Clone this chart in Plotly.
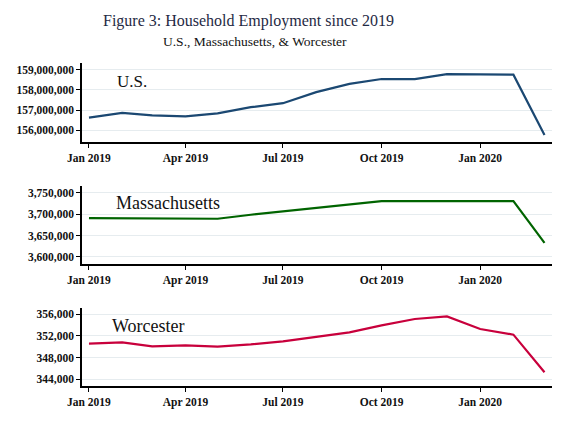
import plotly.graph_objects as go
from plotly.subplots import make_subplots

months = ["2019-01-01", "2019-02-01", "2019-03-01", "2019-04-01", "2019-05-01",
          "2019-06-01", "2019-07-01", "2019-08-01", "2019-09-01", "2019-10-01",
          "2019-11-01", "2019-12-01", "2020-01-01", "2020-02-01", "2020-03-01"]

us_employment = [156627000, 156866000, 156741000, 156696000, 156844000,
                 157148000, 157346000, 157895000, 158298000, 158544000,
                 158536000, 158780000, 158770000, 158759000, 155772000]

ma_employment = [3690700, 3690500, 3689000, 3689000, 3689200,
                 3698500, 3706500, 3714000, 3722000, 3730500,
                 3730500, 3730500, 3730500, 3730500, 3633000]

worcester_employment = [350580, 350800, 350090, 350270, 350030,
                        350450, 351000, 351820, 352670, 353950,
                        355130, 355610, 353290, 352240, 345290]

series_names = ["U.S.", "Massachusetts", "Worcester"]
series_colors = ["#1b4872", "#006400", "#c8003c"]

tick_dates = ["2019-01-01", "2019-04-01", "2019-07-01", "2019-10-01", "2020-01-01"]
tick_labels = ["Jan 2019", "Apr 2019", "Jul 2019", "Oct 2019", "Jan 2020"]

y_ticks = [
    [156000000, 157000000, 158000000, 159000000],
    [3600000, 3650000, 3700000, 3750000],
    [344000, 348000, 352000, 356000],
]
y_ranges = [
    [155410000, 159320000],
    [3583600, 3765600],
    [342765, 357106],
]

title_text = "Figure 3: Household Employment since 2019"
subtitle_text = "U.S., Massachusetts, & Worcester"

FONT = "Liberation Serif"
OFF = 8.0          # page body margin
W = 574.0 - OFF
H = 433.0 - OFF


def px_x(x):
    return (x - OFF) / W


def px_y(y):
    return 1 - (y - OFF) / H


fig = make_subplots(rows=3, cols=1)

all_series = [us_employment, ma_employment, worcester_employment]
for i, vals in enumerate(all_series):
    fig.add_trace(go.Scatter(x=months, y=vals, mode="lines",
                             line=dict(color=series_colors[i], width=2.2),
                             name=series_names[i], showlegend=False),
                  row=i + 1, col=1)

# panel pixel extents (top, bottom) in reference screen pixels
panels = [(63.3, 142.3), (186.0, 264.0), (308.3, 386.0)]

for i in range(3):
    top, bot = panels[i]
    ax = "" if i == 0 else str(i + 1)
    fig.layout["yaxis" + ax].update(
        domain=[px_y(bot), px_y(top)],
        range=y_ranges[i],
        tickvals=y_ticks[i],
        tickformat=",d",
        showgrid=True, gridcolor="#e6ecef", gridwidth=1,
        zeroline=False, automargin=False,
        showline=True, linecolor="black", linewidth=1.5,
        ticks="outside", ticklen=4, tickcolor="black",
        tickfont=dict(family=FONT, size=11.5, color="#111111", weight="bold"),
    )
    fig.layout["xaxis" + ax].update(
        type="date",
        domain=[px_x(82), px_x(552)],
        range=["2018-12-25 12:00", "2020-03-08"],
        tickvals=tick_dates,
        ticktext=tick_labels,
        showgrid=False, zeroline=False, automargin=False,
        showline=True, linecolor="black", linewidth=1.5,
        ticks="outside", ticklen=4, tickcolor="black",
        tickfont=dict(family=FONT, size=11.5, color="#111111", weight="bold"),
        anchor="y" + ax,
    )

label_pos = [(115, 81), (114, 203), (110, 326)]
label_sizes = [17, 18, 18]
for i in range(3):
    x, y = label_pos[i]
    fig.add_annotation(x=px_x(x), y=px_y(y), xref="paper", yref="paper",
                       text=series_names[i], showarrow=False,
                       xanchor="left", yanchor="middle",
                       font=dict(family=FONT, size=label_sizes[i], color="#111111"))

fig.add_annotation(x=px_x(249), y=px_y(21), xref="paper", yref="paper",
                   text=title_text, showarrow=False, xanchor="center", yanchor="middle",
                   font=dict(family=FONT, size=16, color="#1f2a44"))
fig.add_annotation(x=px_x(255), y=px_y(42), xref="paper", yref="paper",
                   text=subtitle_text, showarrow=False, xanchor="center", yanchor="middle",
                   font=dict(family=FONT, size=13.5, color="#111111"))

fig.update_layout(
    width=W, height=H,
    margin=dict(l=0, r=0, t=0, b=0),
    paper_bgcolor="white", plot_bgcolor="white",
    showlegend=False,
)

fig.write_html("out.html")
